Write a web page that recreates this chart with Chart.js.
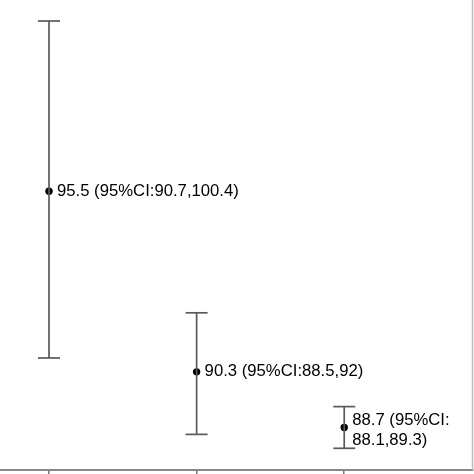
<!DOCTYPE html>
<html>
<head>
<meta charset="utf-8">
<script src="https://cdn.jsdelivr.net/npm/chart.js@4"></script>
<style>
  html, body { margin: 0; padding: 0; background: #fff; }
  #wrap { width: 474px; height: 474px; }
</style>
</head>
<body>
<div id="wrap"><canvas id="c"></canvas></div>
<script>
// group positions on the x axis and the estimates with their 95% CI
var groups = [1, 2, 3]
var est = [95.5, 90.3, 88.7]
var lower = [90.7, 88.5, 88.1]
var upper = [100.4, 92, 89.3]

var barColor = '#5a5a5a'

function ciLabel(i){
    return est[i] + ' (95%CI:' + lower[i] + ',' + upper[i] + ')'
}

var datasets = []
for(var i in groups){
    datasets.push({
        type: 'line',
        data: [{x: groups[i], y: lower[i]}, {x: groups[i], y: upper[i]}],
        borderColor: barColor,
        borderWidth: 1.7,
        pointStyle: 'line',
        pointRadius: 11,
        pointBorderColor: barColor,
        pointBorderWidth: 1.7,
        pointHoverRadius: 11,
        clip: false
    })
}
datasets.push({
    type: 'scatter',
    data: groups.map(function(g, i){ return {x: g, y: est[i]} }),
    pointRadius: 3.7,
    pointBackgroundColor: '#000',
    pointBorderColor: '#000',
    pointBorderWidth: 0,
    clip: false
})

var labelPlugin = {
    id: 'ciLabels',
    afterDatasetsDraw: function(chart){
        var ctx = chart.ctx
        var xs = chart.scales.x, ys = chart.scales.y
        var area = chart.chartArea
        ctx.save()
        // thin frame line on the right side
        ctx.strokeStyle = '#bbb'
        ctx.lineWidth = 1.5
        ctx.beginPath()
        ctx.moveTo(area.right, area.top)
        ctx.lineTo(area.right, area.bottom)
        ctx.stroke()

        ctx.font = '16.7px "Liberation Sans", Arial, sans-serif'
        ctx.fillStyle = '#000'
        ctx.textBaseline = 'middle'
        ctx.textAlign = 'left'
        for(var i in groups){
            var px = xs.getPixelForValue(groups[i]) + 8
            var py = ys.getPixelForValue(est[i])
            var txt = ciLabel(i)
            var lines = [txt]
            if(px + ctx.measureText(txt).width > area.right - 2){
                var cut = txt.indexOf('CI:') + 3
                lines = [txt.slice(0, cut), txt.slice(cut)]
            }
            var lh = 20
            var y0 = py - (lines.length - 1) * lh / 2 + (lines.length - 1) * 3
            for(var k = 0; k < lines.length; k++){
                ctx.fillText(lines[k], px, y0 + k * lh)
            }
        }
        ctx.restore()
    }
}

new Chart(document.getElementById('c'), {
    type: 'scatter',
    data: { datasets: datasets },
    plugins: [labelPlugin],
    options: {
        responsive: true,
        maintainAspectRatio: false,
        animation: false,
        layout: { autoPadding: false, padding: { top: 0, left: 0, right: 1.5, bottom: 0 } },
        plugins: {
            legend: { display: false },
            tooltip: { enabled: false }
        },
        scales: {
            x: {
                type: 'linear',
                min: 0.668,
                max: 3.869,
                afterBuildTicks: function(scale){
                    scale.ticks = groups.map(function(g){ return {value: g} })
                },
                ticks: { display: false },
                grid: {
                    drawOnChartArea: false,
                    drawTicks: true,
                    tickLength: 4,
                    color: '#777',
                    lineWidth: 1.5
                },
                border: { display: true, color: '#888', width: 2 }
            },
            y: {
                display: false,
                type: 'linear',
                min: 87.475,
                max: 101.005
            }
        }
    }
})
</script>
</body>
</html>
